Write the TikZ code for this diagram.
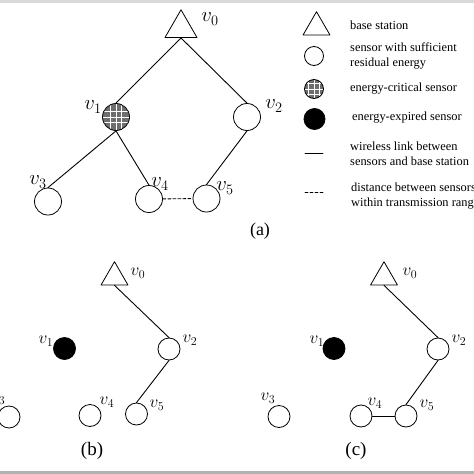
\documentclass[tikz,border=0pt]{standalone}
\usepackage{fontspec}
\setmainfont{Liberation Serif}
\usepackage{tikz}
\usetikzlibrary{shapes.geometric}
\definecolor{critgray}{HTML}{6E6E6E}

\begin{document}
\begin{tikzpicture}[line cap=round,line join=round,x=1pt,y=-1pt,
  base/.style={regular polygon,regular polygon sides=3,draw,line width=0.8pt,fill=white,inner sep=0pt,minimum size=#1},
  base/.default=31pt,
  sensor/.style={circle,draw,line width=0.8pt,fill=white,inner sep=0pt,minimum size=#1},
  sensor/.default=22pt,
  critical/.style={sensor=#1,fill=critgray,path picture={
    \foreach \d in {-5.5,0,5.5}{
      \draw[white,line width=0.5pt] ([xshift=\d pt]path picture bounding box.north) -- ([xshift=\d pt]path picture bounding box.south);
      \draw[white,line width=0.5pt] ([yshift=\d pt]path picture bounding box.west) -- ([yshift=\d pt]path picture bounding box.east);}}},
  critical/.default=22pt,
  expired/.style={sensor=#1,fill=black},
  expired/.default=22pt,
  link/.style={line width=0.9pt},
  near/.style={line width=0.9pt,dash pattern=on 3pt off 2pt},
  vlab/.style={font=\fontsize{20}{24}\selectfont,inner sep=0pt},
  slab/.style={font=\fontsize{17}{20}\selectfont,inner sep=0pt},
  legtext/.style={font=\fontsize{12.4}{15}\selectfont,anchor=west,align=left,inner sep=0pt},
  subcap/.style={font=\fontsize{19}{22}\selectfont,inner sep=0pt}]
\useasboundingbox (0,0) rectangle (474,474);
\clip(0,0) rectangle (474,474);
\fill[gray!30] (0,0) rectangle (474,2.5);
\fill[gray!60] (0,471) rectangle (474,474);
% (a)
\node[base=37pt] (a0) at (181,28.3) {};
\node[critical=27pt] (a1) at (116,117) {};
\node[sensor=27pt] (a2) at (247,117) {};
\node[sensor=27pt] (a3) at (48,201.5) {};
\node[sensor=27pt] (a4) at (149,199) {};
\node[sensor=27pt] (a5) at (206.5,198.5) {};
\node[vlab] (la0) at (210,19) {$v_0$};
\node[vlab] (la1) at (93,107) {$v_1$};
\node[vlab] (la2) at (274,106) {$v_2$};
\node[vlab] (la3) at (38,182) {$v_3$};
\node[vlab] (la4) at (160,184) {$v_4$};
\node[vlab] (la5) at (225,188) {$v_5$};
\draw [link] (a0.south)-- (a1.north);
\draw [link] (a0.south)-- (a2.north);
\draw [link] (a1.south)-- (a3.north);
\draw [link] (a1.south)-- (a4.north);
\draw [link] (a2.south)-- (a5.north);
\draw [near] (a4)-- (a5);
\node[subcap,font=\fontsize{18}{22}\selectfont] (capa) at (260,231) {(a)};
% legend
\node[base=31pt] (g0) at (316.5,27.2) {};
\node[sensor=19pt] (g1) at (314,56) {};
\node[critical=19pt] (g2) at (314,89) {};
\node[expired=21pt] (g3) at (314.5,119) {};
\coordinate (gl1) at (305,153);
\coordinate (gl2) at (323,153);
\coordinate (gd1) at (305,192);
\coordinate (gd2) at (323,192);
\draw [link] (gl1)-- (gl2);
\draw [near] (gd1)-- (gd2);
\node[legtext] (t0) at (350,25) {base station};
\node[legtext] (t1) at (350,56) {sensor with sufficient\\residual energy};
\node[legtext] (t2) at (350,89) {energy-critical sensor};
\node[legtext] (t3) at (352,118) {energy-expired sensor};
\node[legtext] (t4) at (350,154) {wireless link between\\sensors and base station};
\node[legtext] (t5) at (351,196.5) {distance between sensors\\within transmission range};
% (b)
\node[base] (b0) at (114.5,277.2) {};
\node[expired] (b1) at (64.5,348.5) {};
\node[sensor] (b2) at (169,349) {};
\node[sensor] (b3) at (9,417) {};
\node[sensor] (b4) at (90,415.5) {};
\node[sensor] (b5) at (136.5,414) {};
\node[slab] (lb0) at (138,273) {$v_0$};
\node[slab] (lb1) at (46,341) {$v_1$};
\node[slab] (lb2) at (190,340) {$v_2$};
\node[slab] (lb3) at (-2,399) {$v_3$};
\node[slab] (lb4) at (107,402) {$v_4$};
\node[slab] (lb5) at (157,405) {$v_5$};
\draw [link] (b0.south)-- (b2.north);
\draw [link] (b2.south)-- (b5.north);
\node[subcap] (capb) at (92,451) {(b)};
% (c)
\node[base] (c0) at (384,277.2) {};
\node[expired] (c1) at (334,348.5) {};
\node[sensor] (c2) at (438,349) {};
\node[sensor] (c3) at (279,416.5) {};
\node[sensor] (c4) at (361,416) {};
\node[sensor] (c5) at (406,416) {};
\node[slab] (lc0) at (410,273) {$v_0$};
\node[slab] (lc1) at (317,341) {$v_1$};
\node[slab] (lc2) at (459,340) {$v_2$};
\node[slab] (lc3) at (268,398) {$v_3$};
\node[slab] (lc4) at (375,403) {$v_4$};
\node[slab] (lc5) at (427,405) {$v_5$};
\draw [link] (c0.south)-- (c2.north);
\draw [link] (c2.south)-- (c5.north);
\draw [link] (c4)-- (c5);
\node[subcap] (capc) at (356,451) {(c)};
\end{tikzpicture}
\end{document}
